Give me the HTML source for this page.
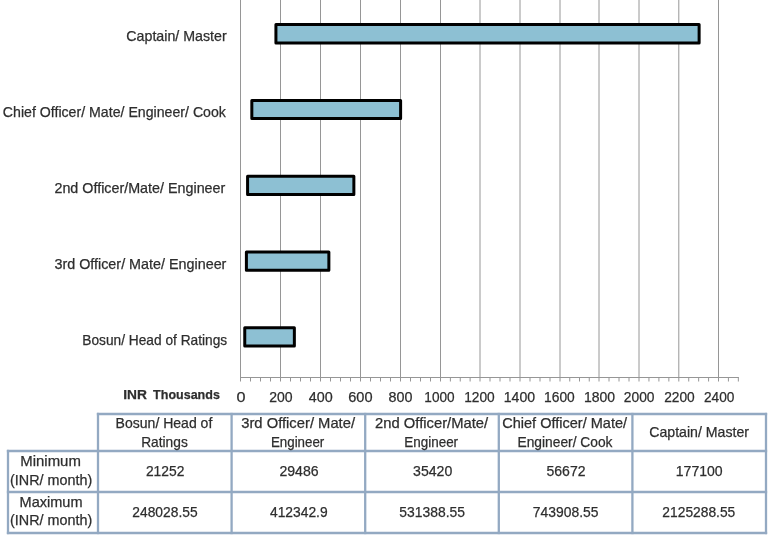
<!DOCTYPE html>
<html><head><meta charset="utf-8"><style>
html,body{margin:0;padding:0;background:#fff;width:768px;height:538px;overflow:hidden}
svg text{font-family:"Liberation Sans",sans-serif}
svg{will-change:transform}
</style></head><body>
<svg width="768" height="538" viewBox="0 0 768 538" style="position:absolute;left:0;top:0">
<rect x="0" y="0" width="768" height="538" fill="#ffffff"/>
<line x1="240.50" y1="-2" x2="240.50" y2="377.5" stroke="#969696" stroke-width="1"/>
<line x1="280.50" y1="-2" x2="280.50" y2="377.5" stroke="#969696" stroke-width="1"/>
<line x1="320.50" y1="-2" x2="320.50" y2="377.5" stroke="#969696" stroke-width="1"/>
<line x1="360.50" y1="-2" x2="360.50" y2="377.5" stroke="#969696" stroke-width="1"/>
<line x1="400.50" y1="-2" x2="400.50" y2="377.5" stroke="#969696" stroke-width="1"/>
<line x1="440.50" y1="-2" x2="440.50" y2="377.5" stroke="#969696" stroke-width="1"/>
<line x1="480.00" y1="-2" x2="480.00" y2="377.5" stroke="#969696" stroke-width="1"/>
<line x1="520.00" y1="-2" x2="520.00" y2="377.5" stroke="#969696" stroke-width="1"/>
<line x1="560.00" y1="-2" x2="560.00" y2="377.5" stroke="#969696" stroke-width="1"/>
<line x1="599.00" y1="-2" x2="599.00" y2="377.5" stroke="#969696" stroke-width="1"/>
<line x1="639.00" y1="-2" x2="639.00" y2="377.5" stroke="#969696" stroke-width="1"/>
<line x1="678.80" y1="-2" x2="678.80" y2="377.5" stroke="#969696" stroke-width="1"/>
<line x1="718.50" y1="-2" x2="718.50" y2="377.5" stroke="#969696" stroke-width="1"/>
<line x1="240.00" y1="377.5" x2="738.85" y2="377.5" stroke="#969696" stroke-width="1"/>
<line x1="240.50" y1="377.5" x2="240.50" y2="381.5" stroke="#969696" stroke-width="1"/>
<line x1="250.50" y1="377.5" x2="250.50" y2="381.5" stroke="#969696" stroke-width="1"/>
<line x1="260.50" y1="377.5" x2="260.50" y2="381.5" stroke="#969696" stroke-width="1"/>
<line x1="270.50" y1="377.5" x2="270.50" y2="381.5" stroke="#969696" stroke-width="1"/>
<line x1="280.50" y1="377.5" x2="280.50" y2="381.5" stroke="#969696" stroke-width="1"/>
<line x1="290.50" y1="377.5" x2="290.50" y2="381.5" stroke="#969696" stroke-width="1"/>
<line x1="300.50" y1="377.5" x2="300.50" y2="381.5" stroke="#969696" stroke-width="1"/>
<line x1="310.50" y1="377.5" x2="310.50" y2="381.5" stroke="#969696" stroke-width="1"/>
<line x1="320.50" y1="377.5" x2="320.50" y2="381.5" stroke="#969696" stroke-width="1"/>
<line x1="330.50" y1="377.5" x2="330.50" y2="381.5" stroke="#969696" stroke-width="1"/>
<line x1="340.50" y1="377.5" x2="340.50" y2="381.5" stroke="#969696" stroke-width="1"/>
<line x1="350.50" y1="377.5" x2="350.50" y2="381.5" stroke="#969696" stroke-width="1"/>
<line x1="360.50" y1="377.5" x2="360.50" y2="381.5" stroke="#969696" stroke-width="1"/>
<line x1="370.50" y1="377.5" x2="370.50" y2="381.5" stroke="#969696" stroke-width="1"/>
<line x1="380.50" y1="377.5" x2="380.50" y2="381.5" stroke="#969696" stroke-width="1"/>
<line x1="390.50" y1="377.5" x2="390.50" y2="381.5" stroke="#969696" stroke-width="1"/>
<line x1="400.50" y1="377.5" x2="400.50" y2="381.5" stroke="#969696" stroke-width="1"/>
<line x1="410.50" y1="377.5" x2="410.50" y2="381.5" stroke="#969696" stroke-width="1"/>
<line x1="420.50" y1="377.5" x2="420.50" y2="381.5" stroke="#969696" stroke-width="1"/>
<line x1="430.50" y1="377.5" x2="430.50" y2="381.5" stroke="#969696" stroke-width="1"/>
<line x1="440.50" y1="377.5" x2="440.50" y2="381.5" stroke="#969696" stroke-width="1"/>
<line x1="450.38" y1="377.5" x2="450.38" y2="381.5" stroke="#969696" stroke-width="1"/>
<line x1="460.25" y1="377.5" x2="460.25" y2="381.5" stroke="#969696" stroke-width="1"/>
<line x1="470.12" y1="377.5" x2="470.12" y2="381.5" stroke="#969696" stroke-width="1"/>
<line x1="480.00" y1="377.5" x2="480.00" y2="381.5" stroke="#969696" stroke-width="1"/>
<line x1="490.00" y1="377.5" x2="490.00" y2="381.5" stroke="#969696" stroke-width="1"/>
<line x1="500.00" y1="377.5" x2="500.00" y2="381.5" stroke="#969696" stroke-width="1"/>
<line x1="510.00" y1="377.5" x2="510.00" y2="381.5" stroke="#969696" stroke-width="1"/>
<line x1="520.00" y1="377.5" x2="520.00" y2="381.5" stroke="#969696" stroke-width="1"/>
<line x1="530.00" y1="377.5" x2="530.00" y2="381.5" stroke="#969696" stroke-width="1"/>
<line x1="540.00" y1="377.5" x2="540.00" y2="381.5" stroke="#969696" stroke-width="1"/>
<line x1="550.00" y1="377.5" x2="550.00" y2="381.5" stroke="#969696" stroke-width="1"/>
<line x1="560.00" y1="377.5" x2="560.00" y2="381.5" stroke="#969696" stroke-width="1"/>
<line x1="569.75" y1="377.5" x2="569.75" y2="381.5" stroke="#969696" stroke-width="1"/>
<line x1="579.50" y1="377.5" x2="579.50" y2="381.5" stroke="#969696" stroke-width="1"/>
<line x1="589.25" y1="377.5" x2="589.25" y2="381.5" stroke="#969696" stroke-width="1"/>
<line x1="599.00" y1="377.5" x2="599.00" y2="381.5" stroke="#969696" stroke-width="1"/>
<line x1="609.00" y1="377.5" x2="609.00" y2="381.5" stroke="#969696" stroke-width="1"/>
<line x1="619.00" y1="377.5" x2="619.00" y2="381.5" stroke="#969696" stroke-width="1"/>
<line x1="629.00" y1="377.5" x2="629.00" y2="381.5" stroke="#969696" stroke-width="1"/>
<line x1="639.00" y1="377.5" x2="639.00" y2="381.5" stroke="#969696" stroke-width="1"/>
<line x1="648.95" y1="377.5" x2="648.95" y2="381.5" stroke="#969696" stroke-width="1"/>
<line x1="658.90" y1="377.5" x2="658.90" y2="381.5" stroke="#969696" stroke-width="1"/>
<line x1="668.85" y1="377.5" x2="668.85" y2="381.5" stroke="#969696" stroke-width="1"/>
<line x1="678.80" y1="377.5" x2="678.80" y2="381.5" stroke="#969696" stroke-width="1"/>
<line x1="688.72" y1="377.5" x2="688.72" y2="381.5" stroke="#969696" stroke-width="1"/>
<line x1="698.65" y1="377.5" x2="698.65" y2="381.5" stroke="#969696" stroke-width="1"/>
<line x1="708.58" y1="377.5" x2="708.58" y2="381.5" stroke="#969696" stroke-width="1"/>
<line x1="718.50" y1="377.5" x2="718.50" y2="381.5" stroke="#969696" stroke-width="1"/>
<line x1="728.42" y1="377.5" x2="728.42" y2="381.5" stroke="#969696" stroke-width="1"/>
<line x1="738.35" y1="377.5" x2="738.35" y2="381.5" stroke="#969696" stroke-width="1"/>
<rect x="275.92" y="24.5" width="423.20" height="18.6" fill="#8dc0d3" stroke="#000" stroke-width="3" stroke-linejoin="round"/>
<rect x="251.83" y="100.4" width="148.78" height="18.19999999999999" fill="#8dc0d3" stroke="#000" stroke-width="3" stroke-linejoin="round"/>
<rect x="247.58" y="176.2" width="106.28" height="18.200000000000017" fill="#8dc0d3" stroke="#000" stroke-width="3" stroke-linejoin="round"/>
<rect x="246.40" y="251.9" width="82.47" height="18.400000000000006" fill="#8dc0d3" stroke="#000" stroke-width="3" stroke-linejoin="round"/>
<rect x="244.75" y="327.7" width="49.61" height="18.400000000000034" fill="#8dc0d3" stroke="#000" stroke-width="3" stroke-linejoin="round"/>
<line x1="98" y1="414" x2="766" y2="414" stroke="#93a9c2" stroke-width="2.3" stroke-linecap="square"/>
<line x1="8" y1="451" x2="766" y2="451" stroke="#93a9c2" stroke-width="2.3" stroke-linecap="square"/>
<line x1="8" y1="492" x2="766" y2="492" stroke="#93a9c2" stroke-width="2.3" stroke-linecap="square"/>
<line x1="8" y1="533" x2="766" y2="533" stroke="#93a9c2" stroke-width="2.3" stroke-linecap="square"/>
<line x1="8" y1="451" x2="8" y2="533" stroke="#93a9c2" stroke-width="2.3" stroke-linecap="square"/>
<line x1="98" y1="414" x2="98" y2="533" stroke="#93a9c2" stroke-width="2.3" stroke-linecap="square"/>
<line x1="231.6" y1="414" x2="231.6" y2="533" stroke="#93a9c2" stroke-width="2.3" stroke-linecap="square"/>
<line x1="365.2" y1="414" x2="365.2" y2="533" stroke="#93a9c2" stroke-width="2.3" stroke-linecap="square"/>
<line x1="498.8" y1="414" x2="498.8" y2="533" stroke="#93a9c2" stroke-width="2.3" stroke-linecap="square"/>
<line x1="632.4" y1="414" x2="632.4" y2="533" stroke="#93a9c2" stroke-width="2.3" stroke-linecap="square"/>
<line x1="766" y1="414" x2="766" y2="533" stroke="#93a9c2" stroke-width="2.3" stroke-linecap="square"/>
<text x="126.31" y="40.80" textLength="100.40" lengthAdjust="spacingAndGlyphs" font-size="14.5" font-weight="normal" fill="#2e2e2e" stroke="#2e2e2e" stroke-width="0.25">Captain/ Master</text>
<text x="2.82" y="116.60" textLength="223.13" lengthAdjust="spacingAndGlyphs" font-size="14.5" font-weight="normal" fill="#2e2e2e" stroke="#2e2e2e" stroke-width="0.25">Chief Officer/ Mate/ Engineer/ Cook</text>
<text x="54.44" y="192.90" textLength="170.87" lengthAdjust="spacingAndGlyphs" font-size="14.5" font-weight="normal" fill="#2e2e2e" stroke="#2e2e2e" stroke-width="0.25">2nd Officer/Mate/ Engineer</text>
<text x="54.43" y="268.80" textLength="171.98" lengthAdjust="spacingAndGlyphs" font-size="14.5" font-weight="normal" fill="#2e2e2e" stroke="#2e2e2e" stroke-width="0.25">3rd Officer/ Mate/ Engineer</text>
<text x="82.36" y="344.50" textLength="144.77" lengthAdjust="spacingAndGlyphs" font-size="14.5" font-weight="normal" fill="#2e2e2e" stroke="#2e2e2e" stroke-width="0.25">Bosun/ Head of Ratings</text>
<text x="123.25" y="399.10" textLength="23.71" lengthAdjust="spacingAndGlyphs" font-size="13.3" font-weight="bold" fill="#2e2e2e" stroke="#2e2e2e" stroke-width="0.25">INR</text>
<text x="153.10" y="399.10" textLength="66.77" lengthAdjust="spacingAndGlyphs" font-size="13.3" font-weight="bold" fill="#2e2e2e" stroke="#2e2e2e" stroke-width="0.25">Thousands</text>
<text x="236.57" y="401.60" textLength="9.01" lengthAdjust="spacingAndGlyphs" font-size="14.5" font-weight="normal" fill="#2e2e2e" stroke="#2e2e2e" stroke-width="0.25">0</text>
<text x="269.17" y="401.60" textLength="23.43" lengthAdjust="spacingAndGlyphs" font-size="14.5" font-weight="normal" fill="#2e2e2e" stroke="#2e2e2e" stroke-width="0.25">200</text>
<text x="308.84" y="401.60" textLength="23.95" lengthAdjust="spacingAndGlyphs" font-size="14.5" font-weight="normal" fill="#2e2e2e" stroke="#2e2e2e" stroke-width="0.25">400</text>
<text x="348.26" y="401.60" textLength="24.33" lengthAdjust="spacingAndGlyphs" font-size="14.5" font-weight="normal" fill="#2e2e2e" stroke="#2e2e2e" stroke-width="0.25">600</text>
<text x="388.46" y="401.60" textLength="23.93" lengthAdjust="spacingAndGlyphs" font-size="14.5" font-weight="normal" fill="#2e2e2e" stroke="#2e2e2e" stroke-width="0.25">800</text>
<text x="424.35" y="401.60" textLength="30.27" lengthAdjust="spacingAndGlyphs" font-size="14.5" font-weight="normal" fill="#2e2e2e" stroke="#2e2e2e" stroke-width="0.25">1000</text>
<text x="464.13" y="401.60" textLength="30.57" lengthAdjust="spacingAndGlyphs" font-size="14.5" font-weight="normal" fill="#2e2e2e" stroke="#2e2e2e" stroke-width="0.25">1200</text>
<text x="503.79" y="401.60" textLength="31.33" lengthAdjust="spacingAndGlyphs" font-size="14.5" font-weight="normal" fill="#2e2e2e" stroke="#2e2e2e" stroke-width="0.25">1400</text>
<text x="544.11" y="401.60" textLength="30.65" lengthAdjust="spacingAndGlyphs" font-size="14.5" font-weight="normal" fill="#2e2e2e" stroke="#2e2e2e" stroke-width="0.25">1600</text>
<text x="583.96" y="401.60" textLength="31.09" lengthAdjust="spacingAndGlyphs" font-size="14.5" font-weight="normal" fill="#2e2e2e" stroke="#2e2e2e" stroke-width="0.25">1800</text>
<text x="623.81" y="401.60" textLength="30.71" lengthAdjust="spacingAndGlyphs" font-size="14.5" font-weight="normal" fill="#2e2e2e" stroke="#2e2e2e" stroke-width="0.25">2000</text>
<text x="664.13" y="401.60" textLength="30.60" lengthAdjust="spacingAndGlyphs" font-size="14.5" font-weight="normal" fill="#2e2e2e" stroke="#2e2e2e" stroke-width="0.25">2200</text>
<text x="703.92" y="401.60" textLength="30.46" lengthAdjust="spacingAndGlyphs" font-size="14.5" font-weight="normal" fill="#2e2e2e" stroke="#2e2e2e" stroke-width="0.25">2400</text>
<text x="115.62" y="427.80" textLength="96.71" lengthAdjust="spacingAndGlyphs" font-size="14.5" font-weight="normal" fill="#2e2e2e" stroke="#2e2e2e" stroke-width="0.25">Bosun/ Head of</text>
<text x="141.19" y="446.50" textLength="46.58" lengthAdjust="spacingAndGlyphs" font-size="14.5" font-weight="normal" fill="#2e2e2e" stroke="#2e2e2e" stroke-width="0.25">Ratings</text>
<text x="241.24" y="427.80" textLength="113.78" lengthAdjust="spacingAndGlyphs" font-size="14.5" font-weight="normal" fill="#2e2e2e" stroke="#2e2e2e" stroke-width="0.25">3rd Officer/ Mate/</text>
<text x="270.92" y="446.50" textLength="53.39" lengthAdjust="spacingAndGlyphs" font-size="14.5" font-weight="normal" fill="#2e2e2e" stroke="#2e2e2e" stroke-width="0.25">Engineer</text>
<text x="375.08" y="427.80" textLength="113.03" lengthAdjust="spacingAndGlyphs" font-size="14.5" font-weight="normal" fill="#2e2e2e" stroke="#2e2e2e" stroke-width="0.25">2nd Officer/Mate/</text>
<text x="404.29" y="446.50" textLength="53.80" lengthAdjust="spacingAndGlyphs" font-size="14.5" font-weight="normal" fill="#2e2e2e" stroke="#2e2e2e" stroke-width="0.25">Engineer</text>
<text x="502.24" y="427.80" textLength="124.84" lengthAdjust="spacingAndGlyphs" font-size="14.5" font-weight="normal" fill="#2e2e2e" stroke="#2e2e2e" stroke-width="0.25">Chief Officer/ Mate/</text>
<text x="517.50" y="446.50" textLength="95.02" lengthAdjust="spacingAndGlyphs" font-size="14.5" font-weight="normal" fill="#2e2e2e" stroke="#2e2e2e" stroke-width="0.25">Engineer/ Cook</text>
<text x="649.25" y="437.40" textLength="99.80" lengthAdjust="spacingAndGlyphs" font-size="14.5" font-weight="normal" fill="#2e2e2e" stroke="#2e2e2e" stroke-width="0.25">Captain/ Master</text>
<text x="20.24" y="466.20" textLength="60.60" lengthAdjust="spacingAndGlyphs" font-size="14.5" font-weight="normal" fill="#2e2e2e" stroke="#2e2e2e" stroke-width="0.25">Minimum</text>
<text x="10.03" y="484.50" textLength="82.20" lengthAdjust="spacingAndGlyphs" font-size="14.5" font-weight="normal" fill="#2e2e2e" stroke="#2e2e2e" stroke-width="0.25">(INR/ month)</text>
<text x="19.64" y="506.60" textLength="62.88" lengthAdjust="spacingAndGlyphs" font-size="14.5" font-weight="normal" fill="#2e2e2e" stroke="#2e2e2e" stroke-width="0.25">Maximum</text>
<text x="10.03" y="525.20" textLength="82.20" lengthAdjust="spacingAndGlyphs" font-size="14.5" font-weight="normal" fill="#2e2e2e" stroke="#2e2e2e" stroke-width="0.25">(INR/ month)</text>
<text x="145.88" y="475.90" textLength="38.46" lengthAdjust="spacingAndGlyphs" font-size="14.5" font-weight="normal" fill="#2e2e2e" stroke="#2e2e2e" stroke-width="0.25">21252</text>
<text x="279.44" y="475.90" textLength="39.22" lengthAdjust="spacingAndGlyphs" font-size="14.5" font-weight="normal" fill="#2e2e2e" stroke="#2e2e2e" stroke-width="0.25">29486</text>
<text x="413.05" y="475.90" textLength="39.21" lengthAdjust="spacingAndGlyphs" font-size="14.5" font-weight="normal" fill="#2e2e2e" stroke="#2e2e2e" stroke-width="0.25">35420</text>
<text x="546.45" y="475.90" textLength="39.07" lengthAdjust="spacingAndGlyphs" font-size="14.5" font-weight="normal" fill="#2e2e2e" stroke="#2e2e2e" stroke-width="0.25">56672</text>
<text x="675.74" y="475.90" textLength="46.94" lengthAdjust="spacingAndGlyphs" font-size="14.5" font-weight="normal" fill="#2e2e2e" stroke="#2e2e2e" stroke-width="0.25">177100</text>
<text x="132.35" y="516.70" textLength="65.22" lengthAdjust="spacingAndGlyphs" font-size="14.5" font-weight="normal" fill="#2e2e2e" stroke="#2e2e2e" stroke-width="0.25">248028.55</text>
<text x="269.96" y="516.80" textLength="57.70" lengthAdjust="spacingAndGlyphs" font-size="14.5" font-weight="normal" fill="#2e2e2e" stroke="#2e2e2e" stroke-width="0.25">412342.9</text>
<text x="399.36" y="516.70" textLength="65.63" lengthAdjust="spacingAndGlyphs" font-size="14.5" font-weight="normal" fill="#2e2e2e" stroke="#2e2e2e" stroke-width="0.25">531388.55</text>
<text x="532.84" y="516.70" textLength="65.60" lengthAdjust="spacingAndGlyphs" font-size="14.5" font-weight="normal" fill="#2e2e2e" stroke="#2e2e2e" stroke-width="0.25">743908.55</text>
<text x="662.37" y="516.80" textLength="72.90" lengthAdjust="spacingAndGlyphs" font-size="14.5" font-weight="normal" fill="#2e2e2e" stroke="#2e2e2e" stroke-width="0.25">2125288.55</text>
</svg>
</body></html>
